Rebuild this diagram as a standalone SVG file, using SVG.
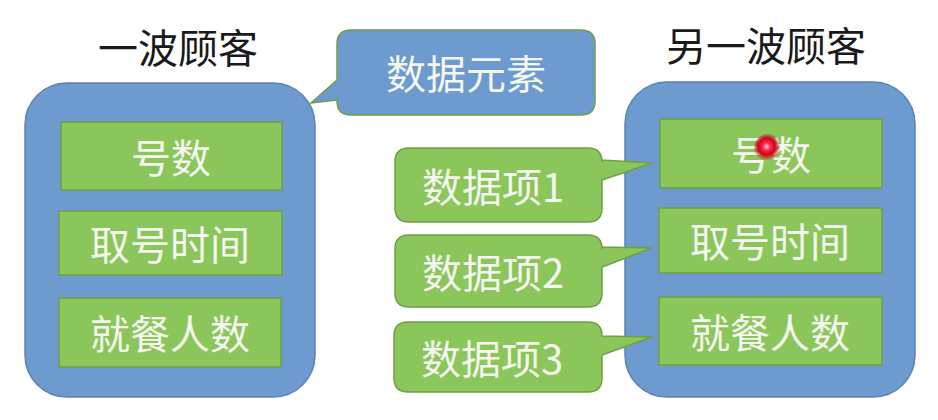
<svg xmlns="http://www.w3.org/2000/svg" width="938" height="420" viewBox="0 0 938 420">
<defs>
<style>
.cont{fill:#6d9bd0;stroke:#5b82b3;stroke-width:1.5}
.item{fill:#8bc65a;stroke:#6e9f45;stroke-width:1.5}
.call{fill:#8bc65a;stroke:#6e9f45;stroke-width:1.5}
.callb{fill:#6d9bd0;stroke:#6e9f45;stroke-width:1.5}
.lbl{font-family:"Noto Sans CJK SC","Liberation Sans",sans-serif;font-size:40px;fill:#f4f6ef;text-anchor:middle;dominant-baseline:central}
.title{font-family:"Noto Sans CJK SC","Liberation Sans",sans-serif;font-size:40px;fill:#1a1a1a;text-anchor:middle;dominant-baseline:central}
</style>
<radialGradient id="laser" cx="0.45" cy="0.45" r="0.5">
<stop offset="0" stop-color="#ffe0f0"/>
<stop offset="0.25" stop-color="#ff3050"/>
<stop offset="0.6" stop-color="#d0001a"/>
<stop offset="1" stop-color="#d0001a" stop-opacity="0"/>
</radialGradient>
</defs>
<rect width="938" height="420" fill="#ffffff"/>

<g id="title-left"><text class="title" x="178" y="46">一波顾客</text></g>
<g id="title-right"><text class="title" x="766" y="44">另一波顾客</text></g>

<g id="group-left">
<rect class="cont" x="25" y="83" width="290" height="314" rx="42"/>
<g id="left-item1"><rect class="item" x="61" y="122" width="221" height="68"/><text class="lbl" x="171" y="156">号数</text></g>
<g id="left-item2"><rect class="item" x="59" y="211" width="223" height="64"/><text class="lbl" x="170" y="243">取号时间</text></g>
<g id="left-item3"><rect class="item" x="59" y="298" width="222" height="69"/><text class="lbl" x="170" y="332">就餐人数</text></g>
</g>

<g id="group-right">
<rect class="cont" x="625" y="82" width="290" height="315" rx="42"/>
<g id="right-item1"><rect class="item" x="660" y="119" width="222" height="69"/><text class="lbl" x="771" y="153">号数</text></g>
<g id="right-item2"><rect class="item" x="659" y="208" width="223" height="65"/><text class="lbl" x="770" y="240">取号时间</text></g>
<g id="right-item3"><rect class="item" x="659" y="297" width="223" height="68"/><text class="lbl" x="770" y="331">就餐人数</text></g>
</g>

<g id="connectors">
<g id="callout-element">
<path class="callb" d="M351,30 H581 Q595,30 595,44 V101 Q595,115 581,115 H351 Q337,115 337,101 V100 L311,103 L337,80 V44 Q337,30 351,30 Z"/>
<text class="lbl" x="466" y="72">数据元素</text>
</g>
<g id="callout-item1">
<path class="call" d="M409,148 H588 Q602,148 602,162 V160 L652,163 L602,180 V208 Q602,222 588,222 H409 Q395,222 395,208 V162 Q395,148 409,148 Z"/>
<text class="lbl" x="493" y="185">数据项1</text>
</g>
<g id="callout-item2">
<path class="call" d="M409,235 H588 Q602,235 602,249 V247 L652,248 L602,267 V293 Q602,307 588,307 H409 Q395,307 395,293 V249 Q395,235 409,235 Z"/>
<text class="lbl" x="493" y="271">数据项2</text>
</g>
<g id="callout-item3">
<path class="call" d="M408,322 H588 Q602,322 602,336 V336 L652,337 L602,355 V378 Q602,392 588,392 H408 Q394,392 394,378 V336 Q394,322 408,322 Z"/>
<text class="lbl" x="492" y="357">数据项3</text>
</g>
</g>

<circle cx="768" cy="148" r="14" fill="url(#laser)"/>
</svg>
